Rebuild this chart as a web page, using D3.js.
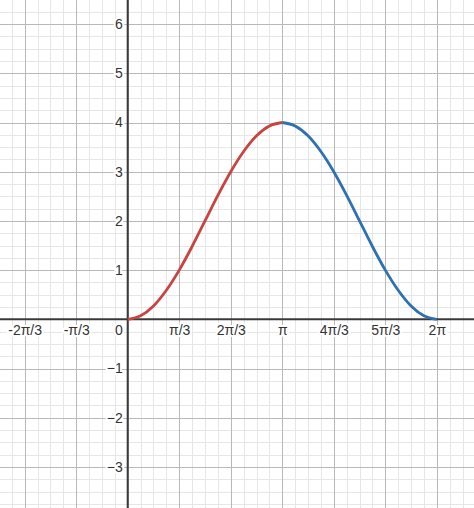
<!DOCTYPE html>
<html>
<head>
<meta charset="utf-8">
<script src="https://cdn.jsdelivr.net/npm/d3@7"></script>
<style>
  body { margin: 0; background: #fff; }
  svg { display: block; }
</style>
</head>
<body>
<div id="chart"></div>
<script>
// x values are in steps of pi/12 at each minor grid line
var stepsK = [0, 1, 2, 3, 4, 5, 6, 7, 8, 9, 10, 11, 12];
var redY = [0, 0.07, 0.27, 0.59, 1, 1.48, 2, 2.52, 3, 3.41, 3.73, 3.93, 4];
var blueY = [4, 3.93, 3.73, 3.41, 3, 2.52, 2, 1.48, 1, 0.59, 0.27, 0.07, 0];

var xTickVals = [-2, -1, 1, 2, 3, 4, 5, 6]; // multiples of pi/3
var xTickLabels = ["-2π/3", "-π/3", "π/3", "2π/3", "π", "4π/3", "5π/3", "2π"];
var yTickVals = [-3, -2, -1, 1, 2, 3, 4, 5, 6];

var width = 474, height = 508;
var ox = 127.7, oy = 319.3, unit = 49.2;

var x = d3.scaleLinear()
    .domain([-ox / unit, (width - ox) / unit])
    .range([0, width]);
var y = d3.scaleLinear()
    .domain([(oy - height) / unit, oy / unit])
    .range([height, 0]);

var svg = d3.select("#chart").append("svg")
    .attr("width", width)
    .attr("height", height);

var PI = Math.PI;

// grid
var minorX = d3.range(-10, 28).map(function(k) { return k * PI / 12; });
var minorY = d3.range(-16, 27).map(function(k) { return k / 4; });
var majorX = d3.range(-3, 8).map(function(k) { return k * PI / 3; });
var majorY = d3.range(-4, 7);

svg.append("g").selectAll("line").data(minorX).enter().append("line")
    .attr("x1", function(d) { return Math.round(x(d)) + 0.5; })
    .attr("x2", function(d) { return Math.round(x(d)) + 0.5; })
    .attr("y1", 0).attr("y2", height)
    .attr("stroke", "#e6e6e6");
svg.append("g").selectAll("line").data(minorY).enter().append("line")
    .attr("y1", function(d) { return Math.round(y(d)) + 0.5; })
    .attr("y2", function(d) { return Math.round(y(d)) + 0.5; })
    .attr("x1", 0).attr("x2", width)
    .attr("stroke", "#e6e6e6");
svg.append("g").selectAll("line").data(majorX).enter().append("line")
    .attr("x1", function(d) { return Math.round(x(d)) + 0.5; })
    .attr("x2", function(d) { return Math.round(x(d)) + 0.5; })
    .attr("y1", 0).attr("y2", height)
    .attr("stroke", "#b8b8b8");
svg.append("g").selectAll("line").data(majorY).enter().append("line")
    .attr("y1", function(d) { return Math.round(y(d)) + 0.5; })
    .attr("y2", function(d) { return Math.round(y(d)) + 0.5; })
    .attr("x1", 0).attr("x2", width)
    .attr("stroke", "#b8b8b8");

// axes lines
svg.append("line")
    .attr("x1", 0).attr("x2", width)
    .attr("y1", y(0)).attr("y2", y(0))
    .attr("stroke", "#3a3a3a").attr("stroke-width", 2);
svg.append("line")
    .attr("x1", x(0)).attr("x2", x(0))
    .attr("y1", 0).attr("y2", height)
    .attr("stroke", "#3a3a3a").attr("stroke-width", 2);

// curves
var line = d3.line()
    .x(function(d) { return x(d[0]); })
    .y(function(d) { return y(d[1]); })
    .curve(d3.curveMonotoneX);

var redPts = stepsK.map(function(k, i) { return [k * PI / 12, redY[i]]; });
var bluePts = stepsK.map(function(k, i) { return [(k + 12) * PI / 12, blueY[i]]; });

svg.append("path").datum(redPts)
    .attr("d", line)
    .attr("fill", "none")
    .attr("stroke", "#c74440")
    .attr("stroke-width", 2.8);
svg.append("path").datum(bluePts)
    .attr("d", line)
    .attr("fill", "none")
    .attr("stroke", "#2d70b3")
    .attr("stroke-width", 2.8);

// tick labels
function styleLabels(g) {
    g.select(".domain").remove();
    g.selectAll(".tick line").remove();
    g.selectAll("text")
        .attr("font-family", "Arial, 'Liberation Sans', sans-serif")
        .attr("font-size", 14)
        .attr("fill", "#333")
        .attr("stroke", "#fff")
        .attr("stroke-width", 4)
        .attr("paint-order", "stroke");
}

var xAxis = d3.axisBottom(x)
    .tickValues(xTickVals.map(function(v) { return v * PI / 3; }))
    .tickFormat(function(d, i) { return xTickLabels[i]; })
    .tickSize(0)
    .tickPadding(6);
svg.append("g")
    .attr("transform", "translate(0," + y(0) + ")")
    .call(xAxis)
    .call(styleLabels);

var yAxis = d3.axisLeft(y)
    .tickValues(yTickVals)
    .tickFormat(d3.format("d"))
    .tickSize(0)
    .tickPadding(5);
svg.append("g")
    .attr("transform", "translate(" + x(0) + ",0)")
    .call(yAxis)
    .call(styleLabels);

svg.append("text")
    .attr("x", x(0) - 5)
    .attr("y", y(0) + 16)
    .attr("text-anchor", "end")
    .attr("font-family", "Arial, 'Liberation Sans', sans-serif")
    .attr("font-size", 14)
    .attr("fill", "#333")
    .attr("stroke", "#fff")
    .attr("stroke-width", 4)
    .attr("paint-order", "stroke")
    .text("0");
</script>
</body>
</html>
